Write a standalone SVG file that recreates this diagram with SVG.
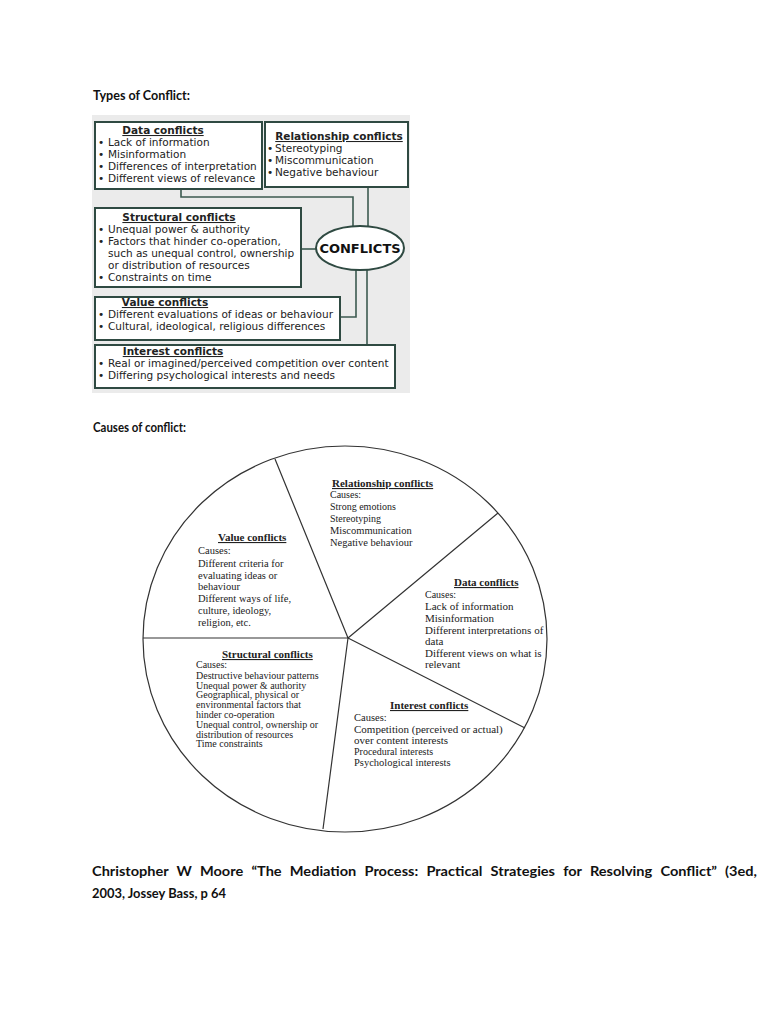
<svg xmlns="http://www.w3.org/2000/svg" width="768" height="1024" viewBox="0 0 768 1024">
<style>
.hd{font-family:Lato,"Open Sans",sans-serif;font-size:12.5px;font-weight:bold;fill:#111}
.box{fill:#fff;stroke:#2f4a42;stroke-width:2}
.conn{fill:none;stroke:#3c5a50;stroke-width:1.6}
.bt{font-family:"DejaVu Sans",Verdana,sans-serif;font-size:10.5px;font-weight:bold;text-decoration:underline;fill:#222}
.bi{font-family:"DejaVu Sans",Verdana,sans-serif;font-size:10.5px;fill:#222}
.pie{fill:none;stroke:#333;stroke-width:1.2}
.pt{font-family:"Liberation Serif","Times New Roman",serif;font-size:11px;font-weight:bold;text-decoration:underline;fill:#222}
.pl{font-family:"Liberation Serif","Times New Roman",serif;font-size:11px;fill:#222}
.pi{font-family:"Liberation Serif","Times New Roman",serif;font-size:10.5px;fill:#222}
.ps{font-family:"Liberation Serif","Times New Roman",serif;font-size:10px;fill:#222}
</style>
<rect width="768" height="1024" fill="#fff"/>
<text class="hd" x="93" y="100" textLength="97" lengthAdjust="spacingAndGlyphs">Types of Conflict:</text>
<rect x="92" y="115" width="318" height="278" fill="#ebebeb"/>
<g id="top-connectors">
<path class="conn" d="M181,189 V197 H353 V227"/>
<path class="conn" d="M368,187 V227"/>
<path class="conn" d="M301,249 H316"/>
<path class="conn" d="M340,317 H356 V270"/>
<path class="conn" d="M367,270 V345"/>
</g>
<g id="t-data">
<rect class="box" x="95" y="122" width="167" height="67"/>
<text class="bt" x="163" y="134" text-anchor="middle">Data conflicts</text>
<text class="bi" x="98" y="146">•<tspan x="108">Lack of information</tspan></text>
<text class="bi" x="98" y="158">•<tspan x="108">Misinformation</tspan></text>
<text class="bi" x="98" y="170">•<tspan x="108">Differences of interpretation</tspan></text>
<text class="bi" x="98" y="182">•<tspan x="108">Different views of relevance</tspan></text>
</g>
<g id="t-relationship">
<rect class="box" x="265" y="122" width="143" height="65"/>
<text class="bt" x="339" y="140" text-anchor="middle">Relationship conflicts</text>
<text class="bi" x="267" y="152">•<tspan x="275">Stereotyping</tspan></text>
<text class="bi" x="267" y="164">•<tspan x="275">Miscommunication</tspan></text>
<text class="bi" x="267" y="176">•<tspan x="275">Negative behaviour</tspan></text>
</g>
<g id="t-structural">
<rect class="box" x="95" y="208" width="206" height="79"/>
<text class="bt" x="179" y="221" text-anchor="middle">Structural conflicts</text>
<text class="bi" x="98" y="233">•<tspan x="108">Unequal power &amp; authority</tspan></text>
<text class="bi" x="98" y="245">•<tspan x="108">Factors that hinder co-operation,</tspan></text>
<text class="bi" x="108" y="257">such as unequal control, ownership</text>
<text class="bi" x="108" y="269">or distribution of resources</text>
<text class="bi" x="98" y="281">•<tspan x="108">Constraints on time</tspan></text>
</g>
<g id="t-conflicts">
<ellipse class="box" cx="360" cy="248" rx="44" ry="22"/>
<text x="360" y="253" text-anchor="middle" font-family="'DejaVu Sans',Verdana,sans-serif" font-size="13" font-weight="bold" fill="#111">CONFLICTS</text>
</g>
<g id="t-value">
<rect class="box" x="95" y="297" width="245" height="43"/>
<text class="bt" x="165" y="306" text-anchor="middle">Value conflicts</text>
<text class="bi" x="98" y="318">•<tspan x="108">Different evaluations of ideas or behaviour</tspan></text>
<text class="bi" x="98" y="330">•<tspan x="108">Cultural, ideological, religious differences</tspan></text>
</g>
<g id="t-interest">
<rect class="box" x="95" y="345" width="300" height="43"/>
<text class="bt" x="173" y="355" text-anchor="middle">Interest conflicts</text>
<text class="bi" x="98" y="367">•<tspan x="108">Real or imagined/perceived competition over content</tspan></text>
<text class="bi" x="98" y="379">•<tspan x="108">Differing psychological interests and needs</tspan></text>
</g>

<text class="hd" x="93" y="432" textLength="93" lengthAdjust="spacingAndGlyphs">Causes of conflict:</text>

<g id="pie-lines">
<ellipse class="pie" cx="345" cy="639" rx="202" ry="193"/>
<path class="pie" d="M348,638 L275,459 M348,638 L498,513 M348,638 L525,728 M348,638 L323,829 M348,638 L143,638"/>
</g>
<g id="p-relationship">
<text class="pt" x="332" y="487">Relationship conflicts</text>
<text class="ps" x="330" y="498">Causes:</text>
<text class="ps" x="330" y="510">Strong emotions</text>
<text class="ps" x="330" y="522">Stereotyping</text>
<text class="pi" x="330" y="534">Miscommunication</text>
<text class="pi" x="330" y="546">Negative behaviour</text>
</g>
<g id="p-value">
<text class="pt" x="218" y="541">Value conflicts</text>
<text class="pi" x="198" y="554">Causes:</text>
<text class="pi" x="198" y="567">Different criteria for</text>
<text class="pi" x="198" y="579">evaluating ideas or</text>
<text class="pi" x="198" y="590">behaviour</text>
<text class="pi" x="198" y="602">Different ways of life,</text>
<text class="pi" x="198" y="614">culture, ideology,</text>
<text class="pi" x="198" y="626">religion, etc.</text>
</g>
<g id="p-data">
<text class="pt" x="454" y="586">Data conflicts</text>
<text class="ps" x="425" y="598">Causes:</text>
<text class="pl" x="425" y="610">Lack of information</text>
<text class="pl" x="425" y="622">Misinformation</text>
<text class="pl" x="425" y="634">Different interpretations of</text>
<text class="pl" x="425" y="645">data</text>
<text class="pl" x="425" y="657">Different views on what is</text>
<text class="pl" x="425" y="668">relevant</text>
</g>
<g id="p-structural">
<text class="pt" x="222" y="658">Structural conflicts</text>
<text class="ps" x="196" y="668">Causes:</text>
<text class="ps" x="196" y="679">Destructive behaviour patterns</text>
<text class="ps" x="196" y="689">Unequal power &amp; authority</text>
<text class="ps" x="196" y="698">Geographical, physical or</text>
<text class="ps" x="196" y="708">environmental factors that</text>
<text class="ps" x="196" y="718">hinder co-operation</text>
<text class="ps" x="196" y="728">Unequal control, ownership or</text>
<text class="ps" x="196" y="738">distribution of resources</text>
<text class="ps" x="196" y="747">Time constraints</text>
</g>
<g id="p-interest">
<text class="pt" x="390" y="709">Interest conflicts</text>
<text class="pi" x="354" y="721">Causes:</text>
<text class="pl" x="354" y="733">Competition (perceived or actual)</text>
<text class="pl" x="354" y="744">over content interests</text>
<text class="ps" x="354" y="755">Procedural interests</text>
<text class="pi" x="354" y="766">Psychological interests</text>
</g>

<text class="hd" x="92" y="876" font-size="13.5" word-spacing="4" textLength="665" lengthAdjust="spacingAndGlyphs">Christopher W Moore “The Mediation Process: Practical Strategies for Resolving Conflict” (3ed,</text>
<text class="hd" x="92" y="898" font-size="13" textLength="134" lengthAdjust="spacingAndGlyphs">2003, Jossey Bass, p 64</text>
</svg>
